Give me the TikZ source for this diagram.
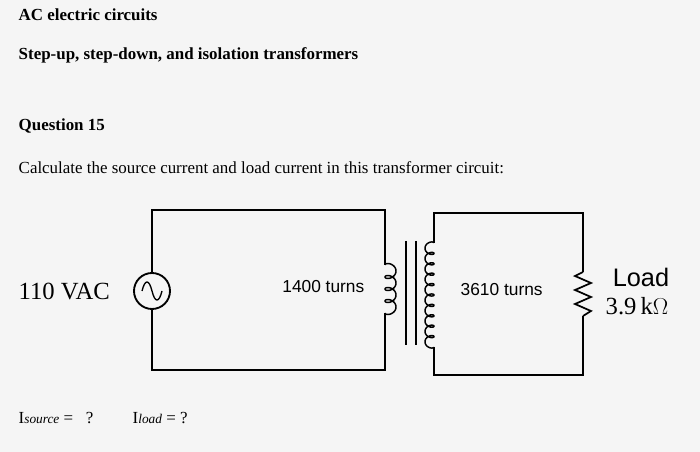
\documentclass[tikz,border=0pt]{standalone}
\usepackage{fontspec}
\setmainfont{Liberation Serif}
\newfontfamily\arial{Liberation Sans}
\begin{document}
\begin{tikzpicture}[x=0.75pt,y=-0.75pt,
  wire/.style={line width=1.6pt,line join=miter},
  hd/.style={anchor=west,font=\fontsize{12.7pt}{14pt}\selectfont\bfseries},
  txt/.style={anchor=west,font=\fontsize{12.7pt}{14pt}\selectfont},
  lbl/.style={font=\arial\fontsize{13pt}{15pt}\selectfont}]
\fill[gray!8] (0,0) rectangle (700,452);
\useasboundingbox (0,0) rectangle (700,452);
\node[hd] (t1) at (14,15) {AC electric circuits};
\node[hd] (t2) at (14,55) {Step-up, step-down, and isolation transformers};
\node[hd] (t3) at (14,126) {Question 15};
\node[txt] (t4) at (14,168) {Calculate the source current and load current in this transformer circuit:};
% primary
\node[draw,circle,line width=1.4pt,minimum size=27pt,inner sep=0pt] (src) at (152,291) {};
\draw[line width=1pt] (src.center)++(-10,0) .. controls +(3,-12) and +(-3,-12) .. +(10,0) .. controls +(3,12) and +(-3,12) .. +(20,0);
\draw[wire] (src.north) -- (152,210) -- (385,210) -- (385,265);
\draw[wire] (src.south) -- (152,370) -- (385,370) -- (385,313);
\draw[line width=1.1pt] plot[domain=0:1440,samples=160,smooth] ({385+5.5*(1-cos(\x))},{265+\x/360*12-4*sin(\x)});
% core
\draw[line width=1.6pt] (406,241) -- (406,345) (416,241) -- (416,345);
% secondary
\draw[wire] (434,243) -- (434,213) -- (583,213) -- (583,272);
\draw[wire] (434,347) -- (434,375) -- (583,375) -- (583,316);
\draw[line width=1.1pt] plot[domain=0:3600,samples=400,smooth] ({434-4.5*(1-cos(\x))},{243+\x/360*10.4-3.2*sin(\x)});
\draw[line width=1.3pt] (583,272) -- (575,276) -- (591,283) -- (575,290) -- (591,297) -- (575,304) -- (591,311) -- (583,316);
% labels
\node[anchor=west,font=\fontsize{18.5pt}{20pt}\selectfont] (v) at (14,291) {110 VAC};
\node[lbl,anchor=east] (n1) at (369,287) {1400 turns};
\node[lbl,anchor=west] (n2) at (456,290) {3610 turns};
\node[font=\arial\fontsize{19pt}{21pt}\selectfont] (ld) at (641,277) {Load};
\node[font=\fontsize{18.5pt}{20pt}\selectfont] (r) at (637,306) {3.9\,k$\Omega$};
\node[txt] (is) at (14,418) {I\textit{\fontsize{10pt}{11pt}\selectfont source} = \ \ ?};
\node[txt] (il) at (128,418) {I\textit{\fontsize{10pt}{11pt}\selectfont load} = ?};
\end{tikzpicture}
\end{document}
